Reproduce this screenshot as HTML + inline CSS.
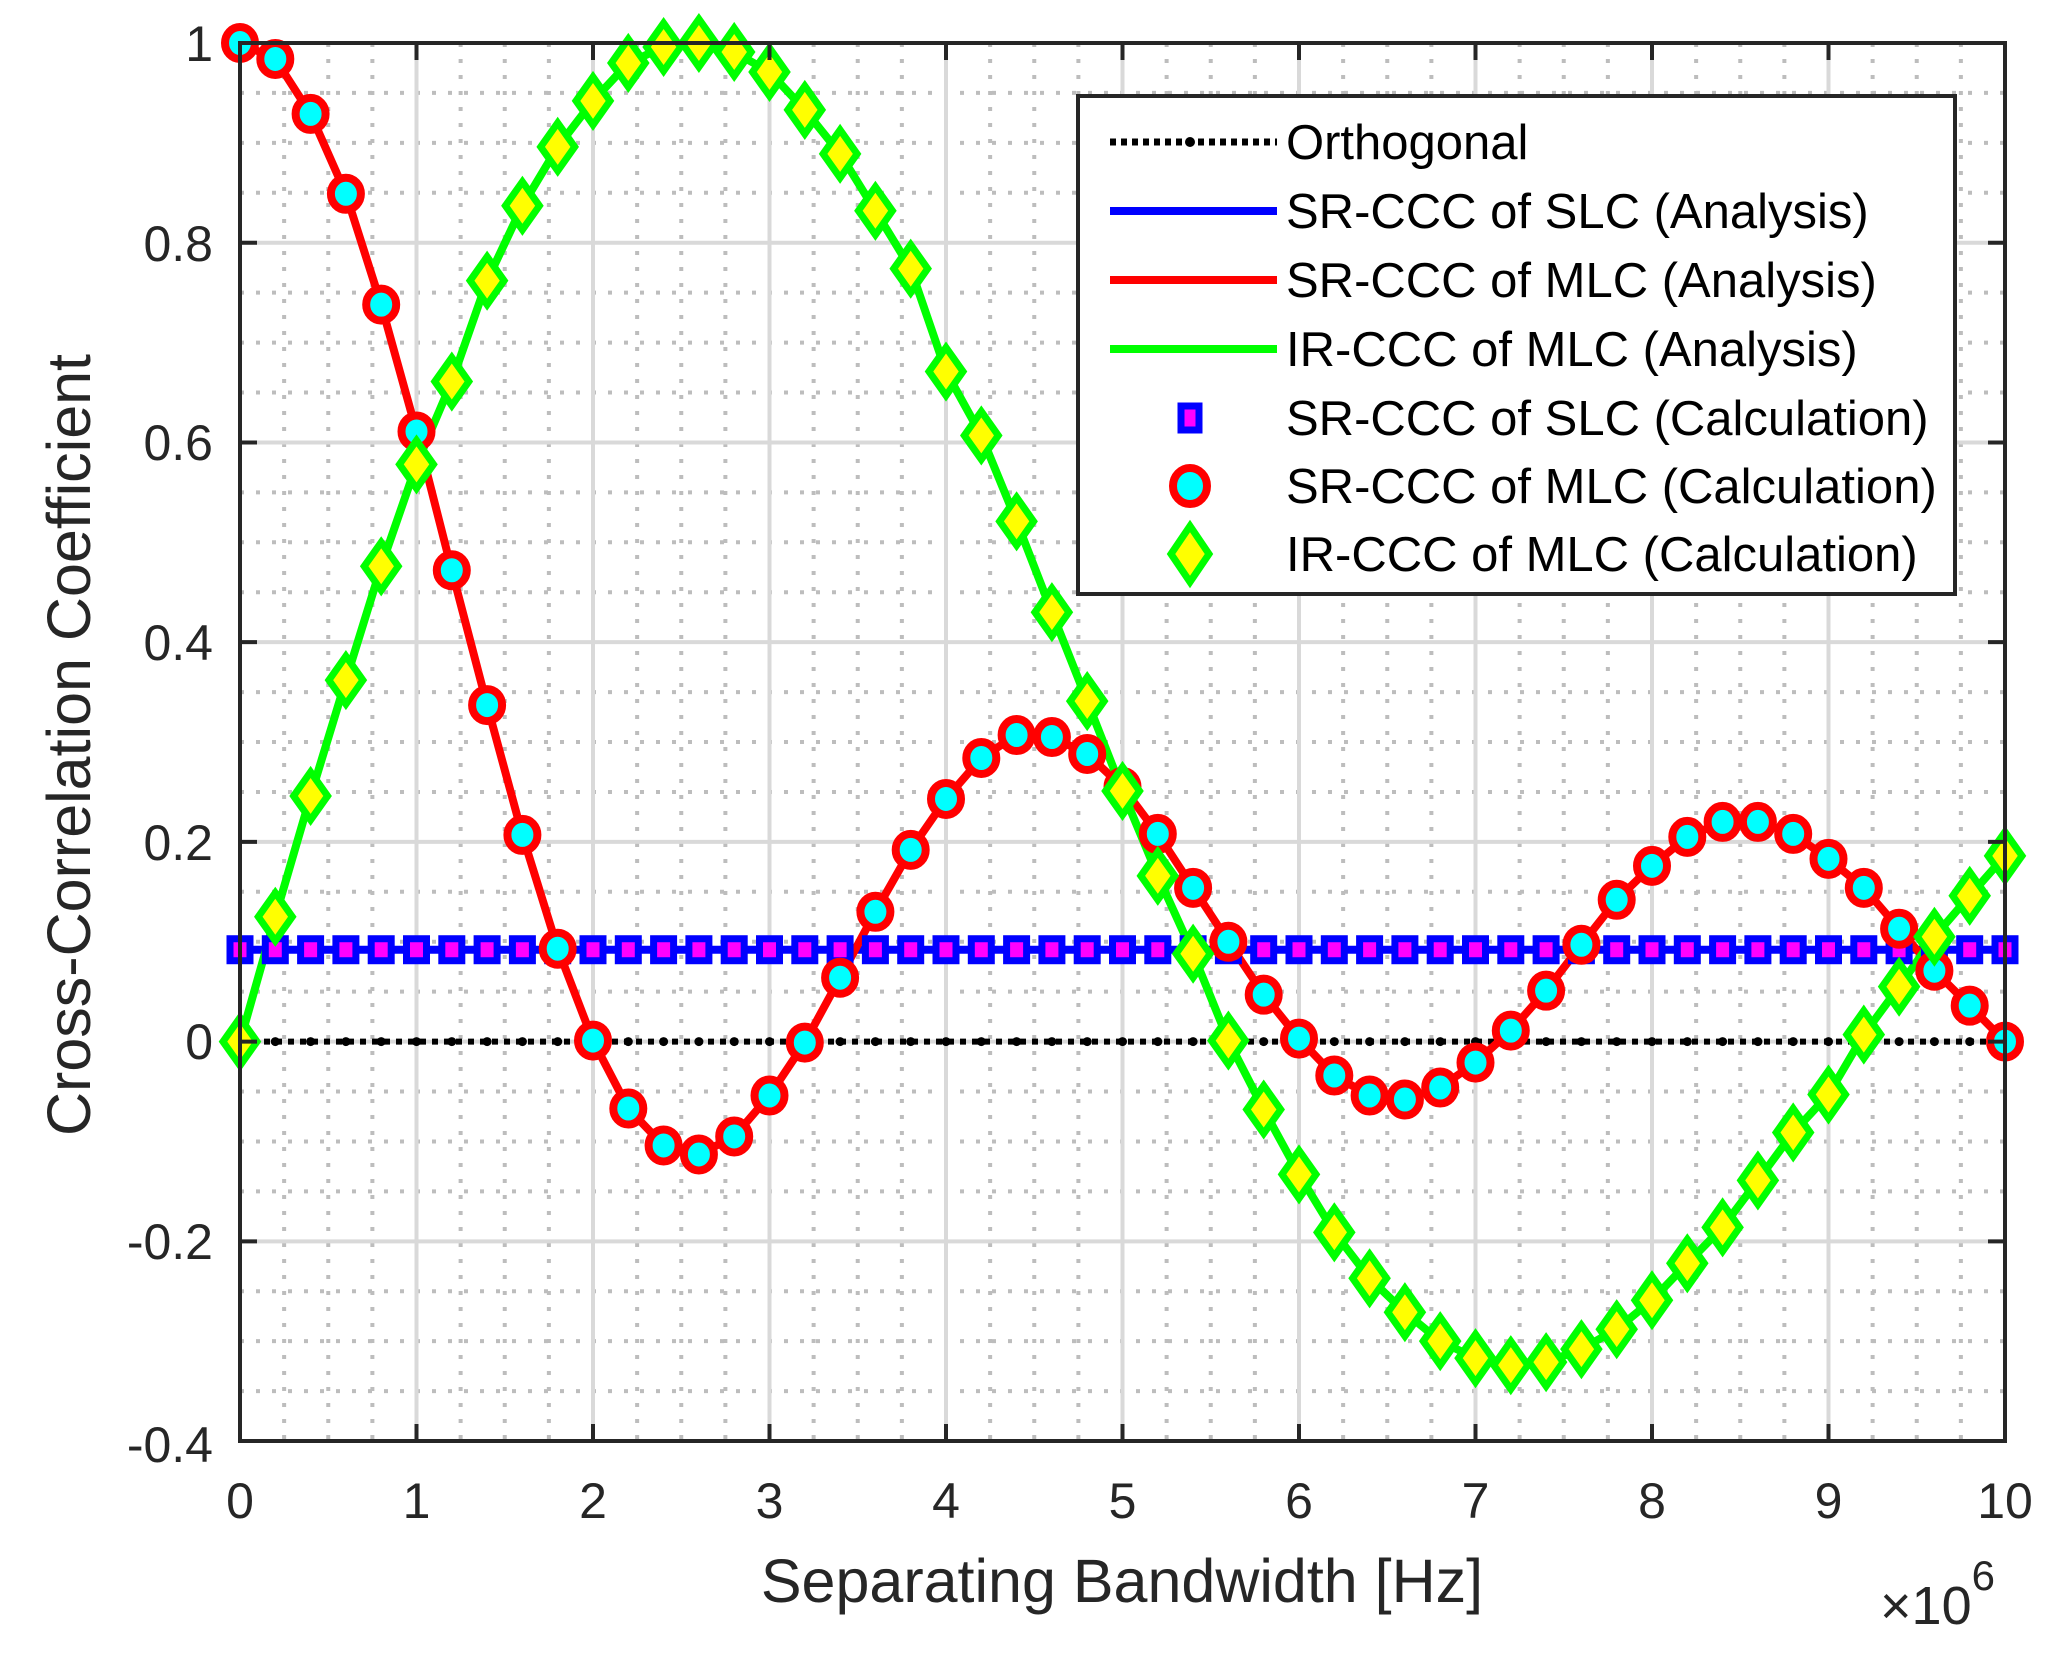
<!DOCTYPE html>
<html><head><meta charset="utf-8"><style>
html,body{margin:0;padding:0;background:#fff;}
svg{display:block;font-family:"Liberation Sans",Arial,sans-serif;}
</style></head><body>
<svg id="s" width="2054" height="1659" viewBox="0 0 2054 1659" xmlns="http://www.w3.org/2000/svg">
<rect width="2054" height="1659" fill="#fff"/>
<g id="grid"></g>
<g id="data"></g>
<rect x="240" y="43" width="1765" height="1398" fill="none" stroke="#262626" stroke-width="4"/>
<g id="ticks" stroke="#262626" stroke-width="4"></g>
<g font-size="50" fill="#262626" text-anchor="end">
<text x="213" y="61">1</text>
<text x="213" y="261">0.8</text>
<text x="213" y="460">0.6</text>
<text x="213" y="660">0.4</text>
<text x="213" y="860">0.2</text>
<text x="213" y="1059">0</text>
<text x="213" y="1259">-0.2</text>
<text x="213" y="1462">-0.4</text>
</g>
<g font-size="50" fill="#262626" text-anchor="middle">
<text x="240" y="1518">0</text><text x="416.5" y="1518">1</text><text x="593" y="1518">2</text>
<text x="769.5" y="1518">3</text><text x="946" y="1518">4</text><text x="1122.5" y="1518">5</text>
<text x="1299" y="1518">6</text><text x="1475.5" y="1518">7</text><text x="1652" y="1518">8</text>
<text x="1828.5" y="1518">9</text><text x="2005" y="1518">10</text>
</g>
<text x="1122" y="1602" font-size="61" fill="#262626" text-anchor="middle">Separating Bandwidth [Hz]</text>
<text x="1880" y="1624" font-size="54" fill="#262626">×10<tspan font-size="42" dy="-34">6</tspan></text>
<text transform="translate(90,745) rotate(-90)" font-size="61" fill="#262626" text-anchor="middle">Cross-Correlation Coefficient</text>
<g id="legend">
<rect x="1078" y="96" width="877" height="498" fill="#fff" stroke="#262626" stroke-width="4"/>
<line x1="1110" y1="142" x2="1277" y2="142" stroke="#000" stroke-width="7" stroke-dasharray="6,5"/>
<circle cx="1190" cy="142" r="5" fill="#000"/>
<line x1="1110" y1="211" x2="1277" y2="211" stroke="#0000ff" stroke-width="8"/>
<line x1="1110" y1="280" x2="1277" y2="280" stroke="#ff0000" stroke-width="8"/>
<line x1="1110" y1="349" x2="1277" y2="349" stroke="#00ff00" stroke-width="8"/>
<rect x="1181" y="406" width="18" height="24" fill="#ff00ff" stroke="#0000ff" stroke-width="7"/>
<ellipse cx="1190" cy="486" rx="17" ry="18" fill="#00ffff" stroke="#ff0000" stroke-width="8"/>
<polygon points="1190,526 1209,554 1190,582 1171,554" fill="#ffff00" stroke="#00ff00" stroke-width="7"/>
<g font-size="49" fill="#000">
<text x="1286" y="159">Orthogonal</text>
<text x="1286" y="228">SR-CCC of SLC (Analysis)</text>
<text x="1286" y="297">SR-CCC of MLC (Analysis)</text>
<text x="1286" y="366">IR-CCC of MLC (Analysis)</text>
<text x="1286" y="435">SR-CCC of SLC (Calculation)</text>
<text x="1286" y="503">SR-CCC of MLC (Calculation)</text>
<text x="1286" y="571">IR-CCC of MLC (Calculation)</text>
</g>
</g>
</svg>
<script>
var NS="http://www.w3.org/2000/svg";
function X(v){return 240+v*176.5;}
function Y(v){return 43+(1-v)*998.6;}
function el(p,t,a){var e=document.createElementNS(NS,t);for(var k in a)e.setAttribute(k,a[k]);p.appendChild(e);return e;}
var g=document.getElementById('grid'),d=document.getElementById('data'),tk=document.getElementById('ticks');
for(var i=0;i<=40;i++){if(i%4==0)continue;var x=X(i*0.25);el(g,'line',{x1:x,y1:43,x2:x,y2:1441,stroke:'#bdbdbd','stroke-width':4,'stroke-dasharray':'4,12'});}
for(var i=0;i<=28;i++){if(i%4==0)continue;var y=Y(1-i*0.05);el(g,'line',{x1:240,y1:y,x2:2005,y2:y,stroke:'#bdbdbd','stroke-width':4,'stroke-dasharray':'4,12'});}
for(var i=1;i<10;i++){var x=X(i);el(g,'line',{x1:x,y1:43,x2:x,y2:1441,stroke:'#d9d9d9','stroke-width':4});}
for(var i=1;i<7;i++){var y=Y(1-i*0.2);el(g,'line',{x1:240,y1:y,x2:2005,y2:y,stroke:'#d9d9d9','stroke-width':4});}
for(var i=1;i<10;i++){var x=X(i);el(tk,'line',{x1:x,y1:1441,x2:x,y2:1424});el(tk,'line',{x1:x,y1:43,x2:x,y2:60});}
for(var i=1;i<7;i++){var y=Y(1-i*0.2);el(tk,'line',{x1:240,y1:y,x2:257,y2:y});el(tk,'line',{x1:2005,y1:y,x2:1988,y2:y});}
var red=[1.0,0.984,0.929,0.849,0.738,0.611,0.472,0.337,0.207,0.093,0.001,-0.067,-0.104,-0.113,-0.095,-0.054,-0.001,0.064,0.13,0.192,0.243,0.284,0.307,0.305,0.288,0.255,0.208,0.154,0.1,0.047,0.003,-0.034,-0.054,-0.058,-0.046,-0.021,0.011,0.051,0.097,0.142,0.176,0.205,0.22,0.22,0.208,0.183,0.154,0.113,0.071,0.036,0.0];
var grn=[0,0.125,0.246,0.362,0.476,0.578,0.661,0.762,0.837,0.896,0.942,0.98,0.996,1.0,0.991,0.971,0.933,0.889,0.832,0.774,0.671,0.607,0.521,0.43,0.341,0.251,0.166,0.088,0.001,-0.068,-0.133,-0.191,-0.237,-0.271,-0.3,-0.317,-0.324,-0.321,-0.308,-0.288,-0.259,-0.222,-0.186,-0.139,-0.091,-0.053,0.007,0.055,0.105,0.146,0.186];
function pts(a){return a.map(function(v,i){return X(i*0.2).toFixed(1)+','+Y(v).toFixed(1);}).join(' ');}
var slc=0.092;
el(d,'line',{x1:240,y1:Y(0),x2:2005,y2:Y(0),stroke:'#000','stroke-width':6,'stroke-dasharray':'6,6'});
for(var i=0;i<=50;i++)el(d,'circle',{cx:X(i*0.2),cy:Y(0),r:4.5,fill:'#000'});
el(d,'line',{x1:240,y1:Y(slc),x2:2005,y2:Y(slc),stroke:'#0000ff','stroke-width':8});
el(d,'polyline',{points:pts(red),fill:'none',stroke:'#ff0000','stroke-width':8,'stroke-linejoin':'round'});
el(d,'polyline',{points:pts(grn),fill:'none',stroke:'#00ff00','stroke-width':8,'stroke-linejoin':'round'});
for(var i=0;i<=50;i++){var x=X(i*0.2),y=Y(slc);el(d,'rect',{x:x-10,y:y-11,width:20,height:22,fill:'#ff00ff',stroke:'#0000ff','stroke-width':7});}
for(var i=0;i<=50;i++){el(d,'ellipse',{cx:X(i*0.2),cy:Y(red[i]),rx:15,ry:16,fill:'#00ffff',stroke:'#ff0000','stroke-width':8});}
for(var i=0;i<=50;i++){var x=X(i*0.2),y=Y(grn[i]);el(d,'polygon',{points:x+','+(y-24)+' '+(x+17)+','+y+' '+x+','+(y+24)+' '+(x-17)+','+y,fill:'#ffff00',stroke:'#00ff00','stroke-width':7});}
</script>
</body></html>
